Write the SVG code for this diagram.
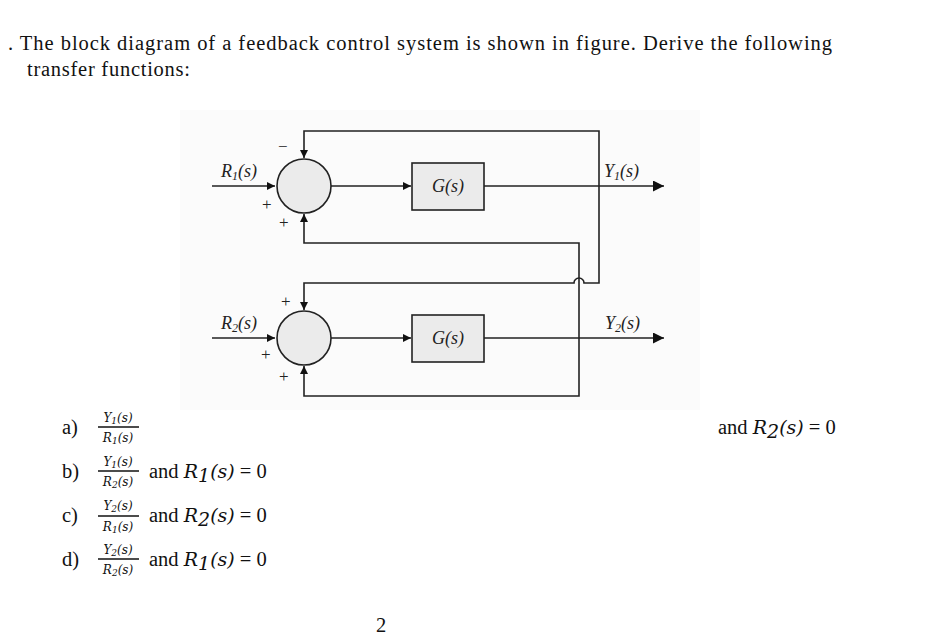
<svg xmlns="http://www.w3.org/2000/svg" width="946" height="638" viewBox="0 0 946 638">
<style>
.t{font-family:"Liberation Serif",serif;font-size:20.5px;fill:#111}
.m{font-family:"DejaVu Serif","Liberation Serif",serif;font-style:italic;font-size:12px;fill:#111}
.mb{font-family:"DejaVu Serif","Liberation Serif",serif;font-style:italic;font-size:19px;fill:#111}
.l{font-family:"Liberation Serif",serif;font-style:italic;font-size:18px;fill:#222}
.s{font-family:"Liberation Serif",serif;font-size:17px;fill:#222}
.w{fill:none;stroke:#222;stroke-width:1.6}
.sum{fill:#ebebeb;stroke:#222;stroke-width:1.6}
.blk{fill:#ebebeb;stroke:#222;stroke-width:1.6}
</style>
<defs><marker id="a" viewBox="0 0 10 10" refX="10" refY="5" markerWidth="8" markerHeight="8" orient="auto" markerUnits="userSpaceOnUse"><path d="M0,0L10,5L0,10z" fill="#111"/></marker>
<marker id="a2" viewBox="0 0 10 10" refX="10" refY="5" markerWidth="11" markerHeight="11" orient="auto" markerUnits="userSpaceOnUse"><path d="M0,0L10,5L0,10z" fill="#111"/></marker></defs>
<rect width="946" height="638" fill="#fff"/>
<rect x="180" y="110" width="520" height="300" fill="#fbfbfb"/>
<text class="t" x="8" y="50" textLength="824" lengthAdjust="spacing">.  The block diagram of a feedback control system is shown in figure. Derive the following</text>
<text class="t" x="27" y="76" textLength="163" lengthAdjust="spacing">transfer functions:</text>
<g id="connectors">
<path class="w" d="M212,186H275" marker-end="url(#a)"/>
<path class="w" d="M331,186H411" marker-end="url(#a)"/>
<path class="w" d="M484,186H664" marker-end="url(#a2)"/>
<path class="w" d="M599,186V131H304V158" marker-end="url(#a)"/>
<path class="w" d="M599,186V283H584A5,5 0 0 0 574,283H304V310" marker-end="url(#a)"/>
<path class="w" d="M579,338V243H304V214" marker-end="url(#a)"/>
<path class="w" d="M579,338V396H304V366" marker-end="url(#a)"/>
<path class="w" d="M212,338H275" marker-end="url(#a)"/>
<path class="w" d="M331,338H411" marker-end="url(#a)"/>
<path class="w" d="M484,338H664" marker-end="url(#a2)"/>
</g>
<g id="sum1"><circle class="sum" cx="304" cy="186" r="27"/></g>
<g id="sum2"><circle class="sum" cx="304" cy="338" r="27"/></g>
<g id="G1"><rect class="blk" x="412" y="163" width="72" height="47"/><text class="l" x="448" y="192" text-anchor="middle">G(s)</text></g>
<g id="G2"><rect class="blk" x="412" y="315" width="72" height="47"/><text class="l" x="448" y="344" text-anchor="middle">G(s)</text></g>
<g id="labels">
<text class="l" x="221" y="177">R<tspan font-size="12" dy="3">1</tspan><tspan dy="-3">(s)</tspan></text>
<text class="l" x="604" y="177">Y<tspan font-size="12" dy="3">1</tspan><tspan dy="-3">(s)</tspan></text>
<text class="l" x="221" y="329">R<tspan font-size="12" dy="3">2</tspan><tspan dy="-3">(s)</tspan></text>
<text class="l" x="605" y="329">Y<tspan font-size="12" dy="3">2</tspan><tspan dy="-3">(s)</tspan></text>
<text class="s" x="278" y="152">−</text>
<text class="s" x="262" y="210">+</text>
<text class="s" x="279" y="228">+</text>
<text class="s" x="281" y="307">+</text>
<text class="s" x="261" y="360">+</text>
<text class="s" x="279" y="382">+</text>
</g>
<g id="items">
<text class="t" x="62" y="434">a)</text>
<text class="m" x="118" y="422" text-anchor="middle">Y<tspan font-size="9" dy="2">1</tspan><tspan dy="-2">(s)</tspan></text>
<line x1="98" y1="427" x2="139" y2="427" stroke="#111" stroke-width="1.3"/>
<text class="m" x="118" y="442" text-anchor="middle">R<tspan font-size="9" dy="2">1</tspan><tspan dy="-2">(s)</tspan></text>
<text class="t" x="718" y="434">and <tspan class="mb">R</tspan><tspan class="mb" font-size="13" dy="4">2</tspan><tspan class="mb" dy="-4">(s)</tspan> = 0</text>

<text class="t" x="62" y="478">b)</text>
<text class="m" x="118" y="466" text-anchor="middle">Y<tspan font-size="9" dy="2">1</tspan><tspan dy="-2">(s)</tspan></text>
<line x1="98" y1="471" x2="139" y2="471" stroke="#111" stroke-width="1.3"/>
<text class="m" x="118" y="486" text-anchor="middle">R<tspan font-size="9" dy="2">2</tspan><tspan dy="-2">(s)</tspan></text>
<text class="t" x="149" y="478">and <tspan class="mb">R</tspan><tspan class="mb" font-size="13" dy="4">1</tspan><tspan class="mb" dy="-4">(s)</tspan> = 0</text>

<text class="t" x="62" y="522">c)</text>
<text class="m" x="118" y="510" text-anchor="middle">Y<tspan font-size="9" dy="2">2</tspan><tspan dy="-2">(s)</tspan></text>
<line x1="98" y1="516" x2="139" y2="516" stroke="#111" stroke-width="1.3"/>
<text class="m" x="118" y="531" text-anchor="middle">R<tspan font-size="9" dy="2">1</tspan><tspan dy="-2">(s)</tspan></text>
<text class="t" x="149" y="522">and <tspan class="mb">R</tspan><tspan class="mb" font-size="13" dy="4">2</tspan><tspan class="mb" dy="-4">(s)</tspan> = 0</text>

<text class="t" x="62" y="566">d)</text>
<text class="m" x="118" y="554" text-anchor="middle">Y<tspan font-size="9" dy="2">2</tspan><tspan dy="-2">(s)</tspan></text>
<line x1="98" y1="559" x2="139" y2="559" stroke="#111" stroke-width="1.3"/>
<text class="m" x="118" y="574" text-anchor="middle">R<tspan font-size="9" dy="2">2</tspan><tspan dy="-2">(s)</tspan></text>
<text class="t" x="149" y="566">and <tspan class="mb">R</tspan><tspan class="mb" font-size="13" dy="4">1</tspan><tspan class="mb" dy="-4">(s)</tspan> = 0</text>
<text class="t" x="376" y="632">2</text>
</g>
</svg>
